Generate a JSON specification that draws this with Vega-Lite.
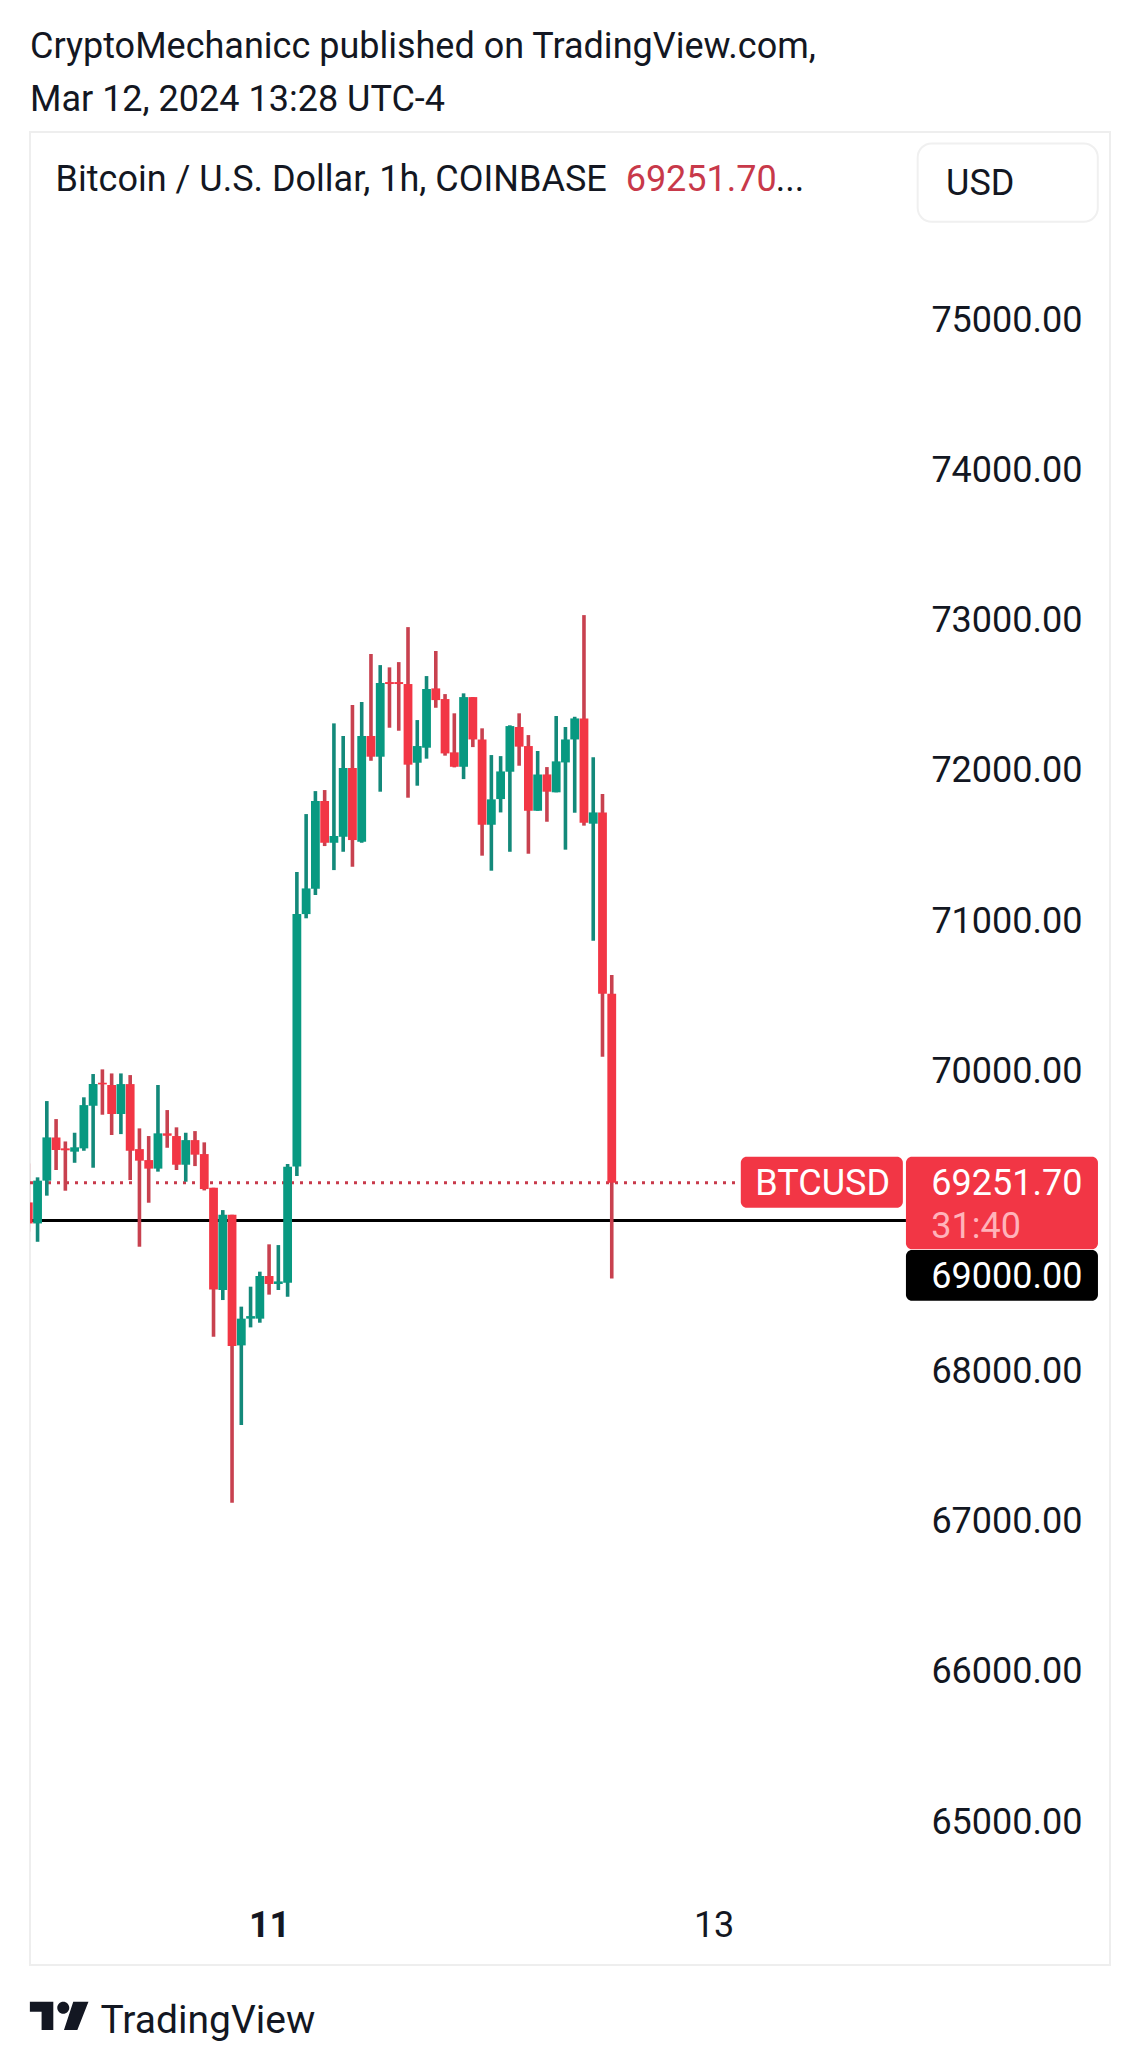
{
  "$schema": "https://vega.github.io/schema/vega-lite/v6.json",
  "autosize": "none",
  "width": 1080,
  "height": 1833,
  "padding": {"left": 30, "top": 132, "right": 30, "bottom": 105},
  "background": "#ffffff",
  "config": {
    "view": {"stroke": "#EEEEEE", "strokeWidth": 2},
    "font": "Roboto",
    "axisY": {
      "domain": false,
      "ticks": false,
      "grid": false,
      "labelFont": "Roboto",
      "labelFontSize": 36,
      "labelColor": "#131722",
      "labelAlign": "right",
      "labelBaseline": "middle",
      "labelPadding": -28,
      "labelOffset": 1,
      "labelOverlap": false,
      "labelFlush": false
    }
  },
  "title": {
    "text": ["CryptoMechanicc published on TradingView.com,", "Mar 12, 2024 13:28 UTC-4"],
    "anchor": "start",
    "frame": "group",
    "font": "Roboto",
    "fontSize": 36,
    "fontWeight": "normal",
    "color": "#131722",
    "lineHeight": 53,
    "offset": 13
  },
  "datasets": {
    "candles": [
      {"time": "2024-03-09T22:00:00Z", "open": 69120, "high": 69380, "low": 68925, "close": 68980},
      {"time": "2024-03-09T23:00:00Z", "open": 68980, "high": 69287, "low": 68858, "close": 69265},
      {"time": "2024-03-10T00:00:00Z", "open": 69265, "high": 69795, "low": 69165, "close": 69553},
      {"time": "2024-03-10T01:00:00Z", "open": 69553, "high": 69675, "low": 69336, "close": 69469},
      {"time": "2024-03-10T02:00:00Z", "open": 69480, "high": 69526, "low": 69198, "close": 69467},
      {"time": "2024-03-10T03:00:00Z", "open": 69458, "high": 69584, "low": 69384, "close": 69487},
      {"time": "2024-03-10T04:00:00Z", "open": 69480, "high": 69820, "low": 69464, "close": 69768},
      {"time": "2024-03-10T05:00:00Z", "open": 69764, "high": 69975, "low": 69351, "close": 69908},
      {"time": "2024-03-10T06:00:00Z", "open": 69917, "high": 70006, "low": 69704, "close": 69906},
      {"time": "2024-03-10T07:00:00Z", "open": 69902, "high": 69979, "low": 69569, "close": 69709},
      {"time": "2024-03-10T08:00:00Z", "open": 69709, "high": 69979, "low": 69575, "close": 69908},
      {"time": "2024-03-10T09:00:00Z", "open": 69908, "high": 69968, "low": 69269, "close": 69464},
      {"time": "2024-03-10T10:00:00Z", "open": 69475, "high": 69613, "low": 68825, "close": 69398},
      {"time": "2024-03-10T11:00:00Z", "open": 69402, "high": 69562, "low": 69118, "close": 69345},
      {"time": "2024-03-10T12:00:00Z", "open": 69345, "high": 69902, "low": 69325, "close": 69580},
      {"time": "2024-03-10T13:00:00Z", "open": 69580, "high": 69735, "low": 69484, "close": 69564},
      {"time": "2024-03-10T14:00:00Z", "open": 69562, "high": 69620, "low": 69336, "close": 69371},
      {"time": "2024-03-10T15:00:00Z", "open": 69371, "high": 69584, "low": 69258, "close": 69535},
      {"time": "2024-03-10T16:00:00Z", "open": 69535, "high": 69595, "low": 69362, "close": 69438},
      {"time": "2024-03-10T17:00:00Z", "open": 69442, "high": 69520, "low": 69200, "close": 69209},
      {"time": "2024-03-10T18:00:00Z", "open": 69218, "high": 69218, "low": 68226, "close": 68541},
      {"time": "2024-03-10T19:00:00Z", "open": 68537, "high": 69069, "low": 68470, "close": 69038},
      {"time": "2024-03-10T20:00:00Z", "open": 69038, "high": 69038, "low": 67120, "close": 68164},
      {"time": "2024-03-10T21:00:00Z", "open": 68168, "high": 68426, "low": 67638, "close": 68346},
      {"time": "2024-03-10T22:00:00Z", "open": 68346, "high": 68559, "low": 68288, "close": 68363},
      {"time": "2024-03-10T23:00:00Z", "open": 68346, "high": 68659, "low": 68319, "close": 68630},
      {"time": "2024-03-11T00:00:00Z", "open": 68630, "high": 68841, "low": 68506, "close": 68577},
      {"time": "2024-03-11T01:00:00Z", "open": 68577, "high": 68836, "low": 68537, "close": 68594},
      {"time": "2024-03-11T02:00:00Z", "open": 68585, "high": 69376, "low": 68492, "close": 69358},
      {"time": "2024-03-11T03:00:00Z", "open": 69360, "high": 71320, "low": 69296, "close": 71040},
      {"time": "2024-03-11T04:00:00Z", "open": 71040, "high": 71706, "low": 71012, "close": 71211},
      {"time": "2024-03-11T05:00:00Z", "open": 71209, "high": 71859, "low": 71167, "close": 71793},
      {"time": "2024-03-11T06:00:00Z", "open": 71793, "high": 71866, "low": 71493, "close": 71515},
      {"time": "2024-03-11T07:00:00Z", "open": 71515, "high": 72310, "low": 71333, "close": 71560},
      {"time": "2024-03-11T08:00:00Z", "open": 71555, "high": 72226, "low": 71455, "close": 72013},
      {"time": "2024-03-11T09:00:00Z", "open": 72013, "high": 72432, "low": 71356, "close": 71533},
      {"time": "2024-03-11T10:00:00Z", "open": 71522, "high": 72452, "low": 71515, "close": 72226},
      {"time": "2024-03-11T11:00:00Z", "open": 72226, "high": 72772, "low": 72061, "close": 72088},
      {"time": "2024-03-11T12:00:00Z", "open": 72088, "high": 72698, "low": 71855, "close": 72579},
      {"time": "2024-03-11T13:00:00Z", "open": 72585, "high": 72683, "low": 72281, "close": 72572},
      {"time": "2024-03-11T14:00:00Z", "open": 72585, "high": 72718, "low": 72261, "close": 72572},
      {"time": "2024-03-11T15:00:00Z", "open": 72572, "high": 72951, "low": 71815, "close": 72035},
      {"time": "2024-03-11T16:00:00Z", "open": 72048, "high": 72332, "low": 71895, "close": 72159},
      {"time": "2024-03-11T17:00:00Z", "open": 72148, "high": 72625, "low": 72075, "close": 72539},
      {"time": "2024-03-11T18:00:00Z", "open": 72543, "high": 72792, "low": 72414, "close": 72465},
      {"time": "2024-03-11T19:00:00Z", "open": 72472, "high": 72505, "low": 72095, "close": 72110},
      {"time": "2024-03-11T20:00:00Z", "open": 72117, "high": 72377, "low": 72017, "close": 72021},
      {"time": "2024-03-11T21:00:00Z", "open": 72021, "high": 72510, "low": 71939, "close": 72485},
      {"time": "2024-03-11T22:00:00Z", "open": 72485, "high": 72485, "low": 72152, "close": 72203},
      {"time": "2024-03-11T23:00:00Z", "open": 72203, "high": 72277, "low": 71429, "close": 71635},
      {"time": "2024-03-12T00:00:00Z", "open": 71635, "high": 72099, "low": 71329, "close": 71804},
      {"time": "2024-03-12T01:00:00Z", "open": 71806, "high": 72092, "low": 71717, "close": 71990},
      {"time": "2024-03-12T02:00:00Z", "open": 71988, "high": 72297, "low": 71455, "close": 72292},
      {"time": "2024-03-12T03:00:00Z", "open": 72286, "high": 72377, "low": 72028, "close": 72155},
      {"time": "2024-03-12T04:00:00Z", "open": 72159, "high": 72232, "low": 71442, "close": 71728},
      {"time": "2024-03-12T05:00:00Z", "open": 71728, "high": 72126, "low": 71728, "close": 71970},
      {"time": "2024-03-12T06:00:00Z", "open": 71970, "high": 72019, "low": 71655, "close": 71855},
      {"time": "2024-03-12T07:00:00Z", "open": 71851, "high": 72359, "low": 71851, "close": 72057},
      {"time": "2024-03-12T08:00:00Z", "open": 72050, "high": 72286, "low": 71469, "close": 72203},
      {"time": "2024-03-12T09:00:00Z", "open": 72203, "high": 72354, "low": 71715, "close": 72343},
      {"time": "2024-03-12T10:00:00Z", "open": 72343, "high": 73031, "low": 71629, "close": 71649},
      {"time": "2024-03-12T11:00:00Z", "open": 71642, "high": 72084, "low": 70863, "close": 71717},
      {"time": "2024-03-12T12:00:00Z", "open": 71717, "high": 71839, "low": 70090, "close": 70510},
      {"time": "2024-03-12T13:00:00Z", "open": 70510, "high": 70634, "low": 68614, "close": 69251.7}
    ],
    "levels": [
      {"kind": "horizontal", "time": "2024-03-09T22:11:00Z", "timeEnd": "2024-03-13T20:46:00Z", "price": 69000},
      {"kind": "last", "time": "2024-03-09T22:11:00Z", "timeEnd": "2024-03-13T02:50:00Z", "price": 69251.7}
    ],
    "tags": [
      {"kind": "last", "time": "2024-03-13T02:56:00Z", "timeEnd": "2024-03-13T20:26:00Z", "price": 69424, "priceEnd": 69085},
      {"kind": "last", "time": "2024-03-13T20:46:00Z", "timeEnd": "2024-03-14T17:30:00Z", "price": 69424, "priceEnd": 68808},
      {"kind": "horizontal", "time": "2024-03-13T20:46:00Z", "timeEnd": "2024-03-14T17:30:00Z", "price": 68803, "priceEnd": 68465}
    ],
    "currency": [
      {"time": "2024-03-13T22:02:00Z", "timeEnd": "2024-03-14T17:29:00Z", "price": 76172, "priceEnd": 75650}
    ],
    "labels": [
      {"kind": "heading", "time": "2024-03-10T00:57:00Z", "price": 75941, "label": "Bitcoin / U.S. Dollar, 1h, COINBASE"},
      {"kind": "quote", "time": "2024-03-12T14:30:00Z", "price": 75941, "label": "69251.70"},
      {"kind": "heading", "time": "2024-03-13T06:42:00Z", "price": 75941, "label": "..."},
      {"kind": "heading", "time": "2024-03-14T01:06:00Z", "price": 75915, "label": "USD"},
      {"kind": "tag", "time": "2024-03-13T04:30:00Z", "price": 69251.7, "label": "BTCUSD"},
      {"kind": "tag", "time": "2024-03-13T23:30:00Z", "price": 69251.7, "label": "69251.70"},
      {"kind": "countdown", "time": "2024-03-13T23:30:00Z", "price": 68968, "label": "31:40"},
      {"kind": "tag", "time": "2024-03-13T23:30:00Z", "price": 68634, "label": "69000.00"}
    ],
    "logo": [
      {"time": "2024-03-10T01:20:00Z", "price": 63702}
    ]
  },
  "encoding": {
    "x": {
      "field": "time",
      "type": "temporal",
      "title": "TradingView",
      "scale": {
        "type": "utc",
        "nice": false,
        "padding": 0,
        "domain": [
          {"year": 2024, "month": 3, "date": 9, "hours": 22, "minutes": 11, "utc": true},
          {"year": 2024, "month": 3, "date": 14, "hours": 18, "minutes": 48, "utc": true}
        ]
      },
      "axis": {
        "values": [
          {"year": 2024, "month": 3, "date": 11, "utc": true},
          {"year": 2024, "month": 3, "date": 13, "utc": true}
        ],
        "format": "%-d",
        "domain": false,
        "ticks": false,
        "grid": false,
        "labelFont": "Roboto",
        "labelFontSize": 36,
        "labelColor": "#131722",
        "labelBaseline": "middle",
        "labelPadding": -40,
        "labelOverlap": false,
        "labelFlush": false,
        "labelFontWeight": {
          "condition": {"test": "utcdate(datum.value) == 11", "value": "bold"},
          "value": "normal"
        },
        "titleFont": "Roboto",
        "titleFontSize": 39,
        "titleFontWeight": "normal",
        "titleColor": "#131722",
        "titleAlign": "left",
        "titleBaseline": "middle",
        "titleX": 70,
        "titleY": 55
      }
    },
    "y": {
      "field": "price",
      "type": "quantitative",
      "title": null,
      "scale": {"domain": [64042, 76248], "nice": false, "zero": false},
      "axis": {
        "orient": "right",
        "values": [65000, 66000, 67000, 68000, 70000, 71000, 72000, 73000, 74000, 75000],
        "format": ".2f"
      }
    }
  },
  "layer": [
    {
      "data": {"name": "levels"},
      "transform": [{"filter": "datum.kind == 'horizontal'"}],
      "mark": {"type": "rule", "color": "#000000", "strokeWidth": 3},
      "encoding": {"x2": {"field": "timeEnd"}}
    },
    {
      "data": {"name": "levels"},
      "transform": [{"filter": "datum.kind == 'last'"}],
      "mark": {"type": "rule", "color": "#C8394A", "strokeWidth": 3, "strokeDash": [3, 6]},
      "encoding": {"x2": {"field": "timeEnd"}}
    },
    {
      "data": {"name": "candles"},
      "mark": {"type": "rule", "strokeWidth": 3.6, "clip": true},
      "encoding": {
        "y": {
          "field": "high",
          "type": "quantitative",
          "title": null,
          "scale": {"domain": [64042, 76248], "nice": false, "zero": false},
          "axis": {
            "orient": "right",
            "values": [65000, 66000, 67000, 68000, 70000, 71000, 72000, 73000, 74000, 75000],
            "format": ".2f"
          }
        },
        "y2": {"field": "low"},
        "color": {
          "condition": {"test": "datum.close >= datum.open", "value": "#13897A"},
          "value": "#C8414F"
        }
      }
    },
    {
      "data": {"name": "candles"},
      "mark": {"type": "bar", "size": 8.8, "clip": true},
      "encoding": {
        "y": {
          "field": "open",
          "type": "quantitative",
          "title": null,
          "scale": {"domain": [64042, 76248], "nice": false, "zero": false},
          "axis": {
            "orient": "right",
            "values": [65000, 66000, 67000, 68000, 70000, 71000, 72000, 73000, 74000, 75000],
            "format": ".2f"
          }
        },
        "y2": {"field": "close"},
        "color": {
          "condition": {"test": "datum.close >= datum.open", "value": "#089981"},
          "value": "#F23645"
        }
      }
    },
    {
      "data": {"name": "tags"},
      "mark": {"type": "rect", "cornerRadius": 6},
      "encoding": {
        "x2": {"field": "timeEnd"},
        "y2": {"field": "priceEnd"},
        "color": {
          "field": "kind",
          "type": "nominal",
          "legend": null,
          "scale": {"domain": ["last", "horizontal"], "range": ["#F23645", "#000000"]}
        }
      }
    },
    {
      "data": {"name": "currency"},
      "mark": {"type": "rect", "cornerRadius": 14, "fill": "#ffffff", "stroke": "#F0F0F0", "strokeWidth": 2},
      "encoding": {
        "x2": {"field": "timeEnd"},
        "y2": {"field": "priceEnd"}
      }
    },
    {
      "data": {"name": "labels"},
      "mark": {"type": "text", "align": "left", "baseline": "middle", "font": "Roboto", "fontSize": 36, "dy": 1.5},
      "encoding": {
        "text": {"field": "label"},
        "color": {
          "field": "kind",
          "type": "nominal",
          "legend": null,
          "scale": {
            "domain": ["heading", "quote", "tag", "countdown"],
            "range": ["#131722", "#C8394A", "#FFFFFF", "#FFB3BA"]
          }
        }
      }
    },
    {
      "data": {"name": "logo"},
      "mark": {
        "type": "point",
        "filled": true,
        "opacity": 1,
        "size": 3434,
        "color": "#131722",
        "shape": "M-1 -0.49 H-0.2 V0.48 H-0.6 V-0.147 H-1 Z M-0.065 -0.283 A0.205 0.205 0 1 0 0.345 -0.283 A0.205 0.205 0 1 0 -0.065 -0.283 Z M0.48 -0.49 H1 L0.62 0.48 H0.164 Z"
      }
    }
  ],
  "resolve": {"scale": {"color": "independent"}}
}
